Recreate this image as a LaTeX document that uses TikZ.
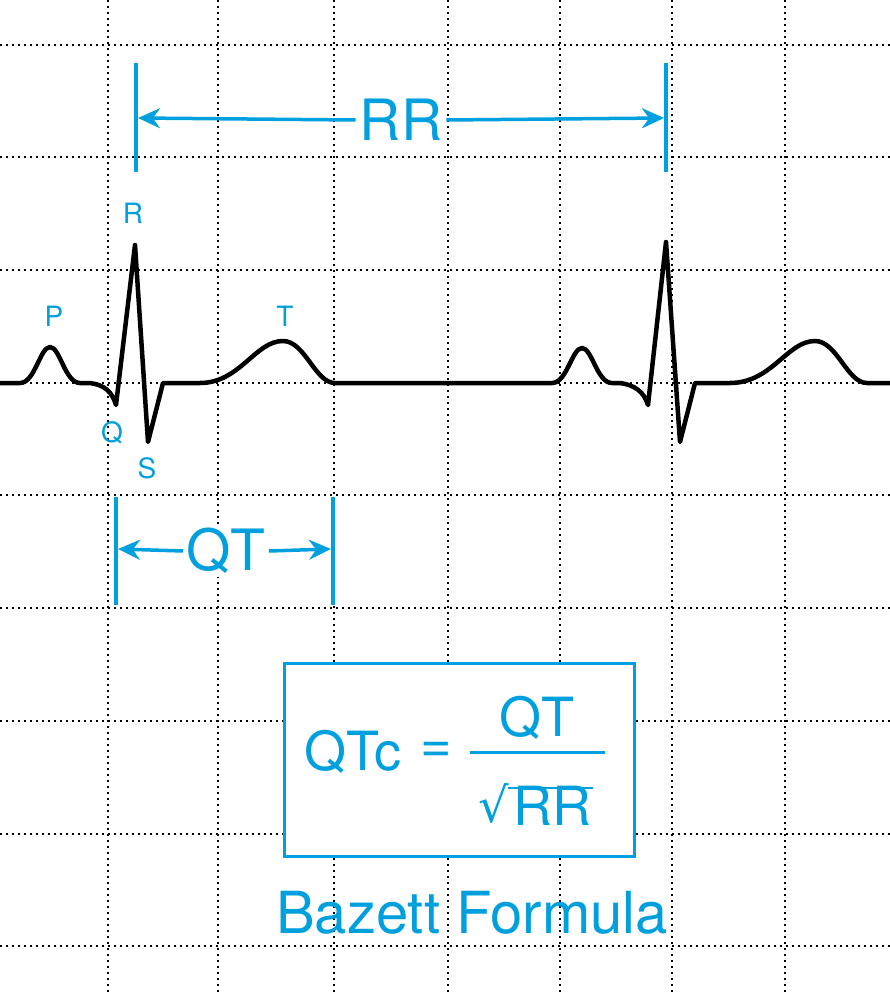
\documentclass[tikz,border=0pt]{standalone}
\usepackage{fontspec}
\setmainfont{TeX Gyre Heros}
\newfontfamily\symfont{DejaVu Sans}
\usetikzlibrary{arrows.meta}
\definecolor{ecgblue}{RGB}{0,160,222}
\tikzset{
 grid/.style={black,line width=1.2pt,dash pattern=on 2pt off 4pt},
 trace/.style={black,line width=4.5pt,line join=round},
 dim/.style={ecgblue,line width=3.5pt},
 dimarrow/.style={ecgblue,line width=3.5pt,-{Stealth[length=22pt,width=20pt]}},
 wlabel/.style={ecgblue,font=\fontsize{28}{30}\selectfont},
 big/.style={ecgblue,font=\fontsize{57}{60}\selectfont},
 form/.style={ecgblue,font=\fontsize{54}{58}\selectfont,inner sep=0pt},
}
\begin{document}
\begin{tikzpicture}[x=1pt,y=-1pt]
\useasboundingbox (0,0) rectangle (890,992);
\fill[white] (0,0) rectangle (890,992);
\foreach \x in {108,218,334,448,560,672,785} \draw[grid] (\x,0) -- (\x,992);
\foreach \y in {45,157,270,383,495,608,721,834,946} \draw[grid] (0,\y) -- (890,\y);
% trace
\draw[trace] (0,383) -- (20,383) .. controls (35,383) and (40,347) .. (50,347)
 .. controls (60,347) and (65,383) .. (80,383) -- (90,383)
 .. controls (105,385) and (112,392) .. (116,405) -- (135,245) -- (148,442) -- (163,383) -- (200,383)
 .. controls (240,383) and (255,341) .. (283,341) .. controls (305,341) and (315,383) .. (335,383)
 -- (552,383) .. controls (567,383) and (572,348) .. (582,348) .. controls (592,348) and (597,383) .. (612,383) -- (620,383)
 .. controls (635,385) and (644,392) .. (648,405) -- (666,242) -- (680,442) -- (695,383) -- (730,383)
 .. controls (772,383) and (787,341) .. (815,341) .. controls (837,341) and (847,383) .. (867,383) -- (890,383);
\node[wlabel] (lp) at (54,316) {P};
\node[wlabel] (lr) at (133,213) {R};
\node[wlabel] (lt) at (285,316) {T};
\node[wlabel] (lq) at (112,433) {Q};
\node[wlabel] (ls) at (147,468) {S};
% RR
\coordinate (r1t) at (136,63); \coordinate (r1b) at (136,172);
\coordinate (r2t) at (666,63); \coordinate (r2b) at (666,172);
\draw[dim] (r1t) -- (r1b); \draw[dim] (r2t) -- (r2b);
\node[big,fill=white,inner sep=4pt] (rr) at (401,120) {RR};
\coordinate (ra) at (138,118); \coordinate (rb) at (664,118);
\draw[dimarrow] (rr.west) -- (ra); \draw[dimarrow] (rr.east) -- (rb);
% QT
\coordinate (q1t) at (116,497); \coordinate (q1b) at (116,605);
\coordinate (q2t) at (333,497); \coordinate (q2b) at (333,605);
\draw[dim] (q1t) -- (q1b); \draw[dim] (q2t) -- (q2b);
\node[big,fill=white,inner sep=3pt] (qt) at (226,551) {QT};
\coordinate (qa) at (118,549); \coordinate (qb) at (331,549);
\draw[dimarrow] (qt.west) -- (qa); \draw[dimarrow] (qt.east) -- (qb);
% formula box
\draw[dim,line width=3pt,fill=white] (284,663) rectangle (634,856);
\node[form] (qtc) at (353,752) {QTc};
\node[form] (eq) at (436,752) {=};
\coordinate (fl) at (470,752); \coordinate (fr) at (605,752);
\draw[ecgblue,line width=3pt] (fl) -- (fr);
\node[form] (num) at (537,718) {QT};
\node[form] (den) at (552,806) {RR};
\node[form,font=\symfont\fontsize{48}{52}\selectfont] (rad) at (494,804) {√};
\coordinate (ovr) at ([xshift=2pt]den.north east);
\draw[ecgblue,line width=2.5pt] ([xshift=-2pt,yshift=-4pt]rad.north east) -- ([yshift=-4pt]rad.north east -| ovr);
\node[ecgblue,font=\fontsize{58}{62}\selectfont] (bz) at (472,913) {Bazett Formula};
\end{tikzpicture}
\end{document}
